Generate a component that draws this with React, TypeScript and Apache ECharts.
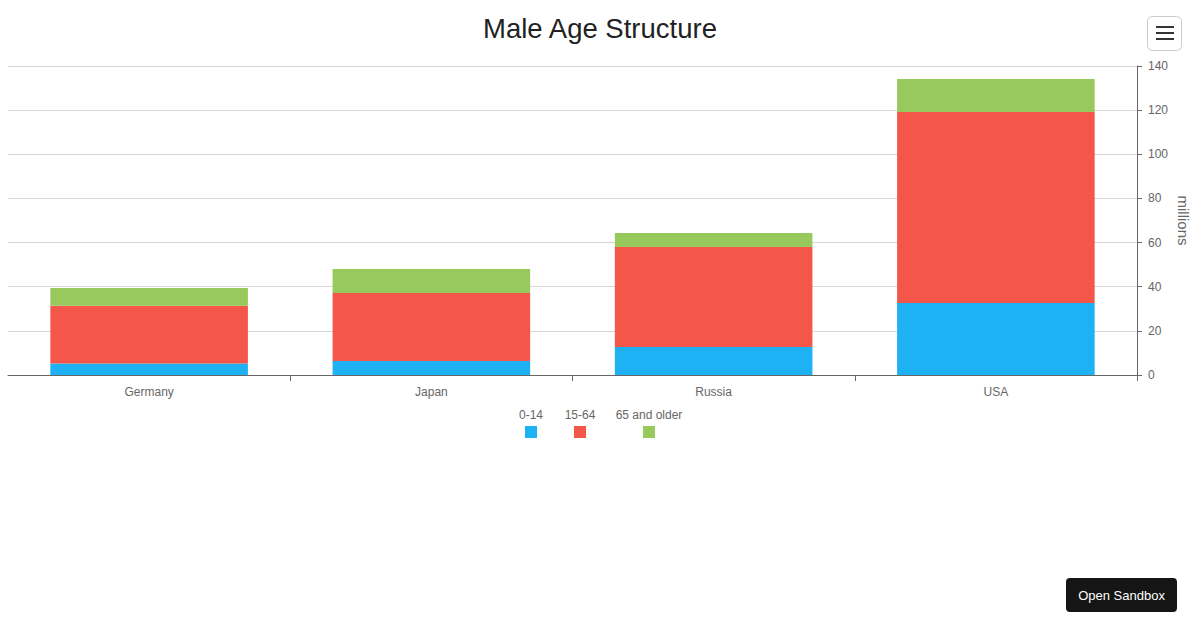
import React, { useEffect, useRef } from "react";
import * as echarts from "echarts";

const categories = ["Germany", "Japan", "Russia", "USA"];
const seriesNames = ["0-14", "15-64", "65 and older"];
const age0to14 = [5.2, 6.3, 12.7, 32.6];
const age15to64 = [26.2, 30.9, 45.3, 86.6];
const age65plus = [8.0, 10.8, 6.3, 14.9];
const colors = ["#1eb2f5", "#f4574a", "#97c95c"];
const yTicks = { min: 0, max: 140, interval: 20 };

export default function App() {
  const ref = useRef<HTMLDivElement>(null);
  useEffect(() => {
    document.body.style.margin = "0";
    const chart = echarts.init(ref.current!, null, { renderer: "svg" });
    const values = [age0to14, age15to64, age65plus];
    const legendX = [531, 580, 649];
    const font = "Liberation Sans, Arial, sans-serif";
    const legendGraphics: any[] = [];
    seriesNames.forEach((n, i) => {
      legendGraphics.push({
        type: "text",
        x: legendX[i],
        y: 415,
        style: { text: n, fill: "#666", font: `12px ${font}`, align: "center", verticalAlign: "middle" },
      });
      legendGraphics.push({
        type: "rect",
        shape: { x: legendX[i] - 6, y: 426, width: 12, height: 12 },
        style: { fill: colors[i] },
      });
    });
    chart.setOption({
      animation: false,
      textStyle: { fontFamily: font },
      title: {
        text: "Male Age Structure",
        left: "center",
        top: 9,
        textStyle: { fontSize: 27.5, fontWeight: "normal", color: "#222", fontFamily: font },
      },
      grid: { left: 8, right: 63, top: 66, bottom: 255, outerBoundsMode: "none", containLabel: false },
      xAxis: {
        type: "category",
        data: categories,
        axisLine: { lineStyle: { color: "#666" } },
        axisTick: {
          show: true,
          length: 6,
          lineStyle: { color: "#666" },
          interval: (i: number) => i !== 0 && i !== categories.length,
        },
        axisLabel: { color: "#666", fontSize: 12, margin: 11 },
      },
      yAxis: {
        type: "value",
        position: "right",
        min: yTicks.min,
        max: yTicks.max,
        interval: yTicks.interval,
        name: "millions",
        nameLocation: "middle",
        nameRotate: -90,
        nameGap: 39,
        nameMoveOverlap: false,
        nameTextStyle: { color: "#666", fontSize: 15 },
        axisLine: { show: true, lineStyle: { color: "#666" } },
        axisTick: { show: true, length: 5, lineStyle: { color: "#666" } },
        axisLabel: { color: "#666", fontSize: 12, margin: 11 },
        splitLine: { lineStyle: { color: "#d6d6d6" } },
      },
      series: seriesNames.map((n, i) => ({
        type: "bar",
        name: n,
        stack: "total",
        data: values[i],
        barWidth: "70%",
        itemStyle: { color: colors[i] },
      })),
      graphic: [
        ...legendGraphics,
        {
          type: "rect",
          shape: { x: 1147.5, y: 16.5, width: 34, height: 34, r: 5 },
          style: { fill: "#fff", stroke: "#ccc", lineWidth: 1 },
        },
        ...[27, 33, 39].map((y) => ({
          type: "rect",
          shape: { x: 1156, y: y - 1, width: 18, height: 2 },
          style: { fill: "#333" },
        })),
        {
          type: "rect",
          shape: { x: 1066, y: 578, width: 111, height: 34, r: 4 },
          style: { fill: "#151515" },
        },
        {
          type: "text",
          x: 1121.5,
          y: 595,
          style: { text: "Open Sandbox", fill: "#fff", font: `13px ${font}`, align: "center", verticalAlign: "middle" },
        },
      ],
    });
    return () => chart.dispose();
  }, []);
  return <div ref={ref} style={{ position: "absolute", left: 0, top: 0, width: 1200, height: 630 }} />;
}
